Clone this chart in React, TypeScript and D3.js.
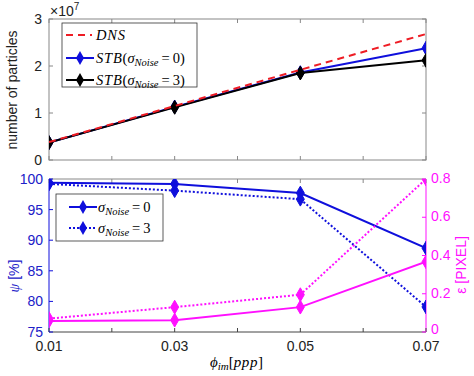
import React from "react";
import * as d3 from "d3";

const xVals = [0.01, 0.03, 0.05, 0.07];
const dns = [0.38, 1.15, 1.92, 2.68];
const stb0 = [0.37, 1.13, 1.86, 2.38];
const stb3 = [0.37, 1.12, 1.85, 2.12];
const psi0 = [99.4, 99.2, 97.7, 88.7];
const psi3 = [99.2, 98.1, 96.7, 79.1];
const eps0 = [0.058, 0.062, 0.13, 0.367];
const eps3 = [0.07, 0.13, 0.195, 0.8];
const xTicks = [0.01, 0.02, 0.03, 0.04, 0.05, 0.06, 0.07];
const xTickLabels = [0.01, 0.03, 0.05, 0.07];
const topYTicks = [0, 1, 2, 3];
const psiTicks = [75, 80, 85, 90, 95, 100];
const epsTicks = [0, 0.2, 0.4, 0.6, 0.8];

const BLUE = "#0f0fdc";
const BLUE_TXT = "#2020c8";
const MAG = "#ff10ff";
const RED = "#ee1c24";
const GRAY = "#888";
const FONT = "'Liberation Sans', Arial, sans-serif";
const SERIF = "'Liberation Serif', 'Times New Roman', serif";

const L = 49, R = 426;
const x = d3.scaleLinear().domain([0.01, 0.07]).range([L, R]);
const yTop = d3.scaleLinear().domain([0, 3]).range([160, 19]);
const yPsi = d3.scaleLinear().domain([75, 100]).range([332, 179]);
const yEps = d3.scaleLinear().domain([0, 0.8]).range([332, 179]);

const diamond = d3.symbol().type(d3.symbolDiamond).size(55)()!;

function Series({ vals, y, color, dash, width = 2 }: any) {
  const line = d3.line<number>().x((_, i) => x(xVals[i])).y((v) => y(v));
  return (
    <g>
      <path d={line(vals)!} fill="none" stroke={color} strokeWidth={width} strokeDasharray={dash} />
      {vals.map((v: number, i: number) => (
        <path key={i} d={diamond} transform={`translate(${x(xVals[i])},${y(v)})`} fill={color} stroke={color} />
      ))}
    </g>
  );
}

function Series2({ vals, y, color, dash }: any) {
  const line = d3.line<number>().x((_, i) => x(xVals[i])).y((v) => y(v));
  return <path d={line(vals)!} fill="none" stroke={color} strokeWidth={2} strokeDasharray={dash} />;
}

function Noise({ n }: { n: string }) {
  return (
    <>
      <tspan fontStyle="italic">σ</tspan>
      <tspan fontStyle="italic" fontSize="10.5" dy="3">Noise</tspan>
      <tspan dy="-3" dx="3">=</tspan>
      <tspan dx="3">{n}</tspan>
    </>
  );
}

export default function App() {
  return (
    <svg width={474} height={376} style={{ display: "block", position: "absolute", left: 0, top: 0 }}>
      <rect width={474} height={376} fill="#fff" />
      <defs>
        <clipPath id="cTop"><rect x={L} y={19} width={R - L} height={141} /></clipPath>
        <clipPath id="cBot"><rect x={L} y={179} width={R - L} height={153} /></clipPath>
      </defs>

      {/* TOP AXES */}
      <rect x={L} y={19} width={R - L} height={141} fill="none" stroke={GRAY} strokeWidth={1} />
      {xTicks.map((t) => (
        <g key={t}>
          <line x1={x(t)} x2={x(t)} y1={160} y2={156} stroke={GRAY} />
          <line x1={x(t)} x2={x(t)} y1={19} y2={23} stroke={GRAY} />
        </g>
      ))}
      {topYTicks.map((t) => (
        <g key={t}>
          <line x1={L} x2={L + 4} y1={yTop(t)} y2={yTop(t)} stroke={GRAY} />
          <line x1={R} x2={R - 4} y1={yTop(t)} y2={yTop(t)} stroke={GRAY} />
          <text x={42} y={yTop(t) + 5} fontSize={14} fontFamily={FONT} textAnchor="end" fill="#222">{t}</text>
        </g>
      ))}
      <text x={50} y={16} fontSize={14} fontFamily={FONT} fill="#222">×10<tspan fontSize={10} dy={-6}>7</tspan></text>
      <text transform="translate(17,90) rotate(-90)" fontSize={14} fontFamily={FONT} textAnchor="middle" fill="#222">number of particles</text>
      <g clipPath="url(#cTop)">
        <Series vals={stb0} y={yTop} color={BLUE} />
        <Series vals={stb3} y={yTop} color="#000" />
        <Series2 vals={dns} y={yTop} color={RED} dash="7,5" />
      </g>
      {/* top legend */}
      <rect x={62} y={23} width={135} height={64} fill="#fff" stroke="#333" strokeWidth={0.8} />
      <line x1={66} x2={92} y1={35} y2={35} stroke={RED} strokeWidth={2} strokeDasharray="7,5" />
      <text x={96} y={40} fontSize={14.5} fontFamily={SERIF} fontStyle="italic" fill="#000" letterSpacing={0.8}>DNS</text>
      <line x1={66} x2={94} y1={58} y2={58} stroke={BLUE} strokeWidth={2} />
      <path d={diamond} transform="translate(80,58)" fill={BLUE} />
      <text x={96} y={63} fontSize={14.5} fontFamily={SERIF} fill="#000"><tspan fontStyle="italic" letterSpacing={0.8}>STB</tspan>(<Noise n="0" />)</text>
      <line x1={66} x2={94} y1={80} y2={80} stroke="#000" strokeWidth={2} />
      <path d={diamond} transform="translate(80,80)" fill="#000" />
      <text x={96} y={85} fontSize={14.5} fontFamily={SERIF} fill="#000"><tspan fontStyle="italic" letterSpacing={0.8}>STB</tspan>(<Noise n="3" />)</text>

      {/* BOTTOM AXES */}
      <line x1={L} x2={R} y1={179} y2={179} stroke={GRAY} />
      <line x1={L} x2={R} y1={332} y2={332} stroke="#444" />
      <line x1={L} x2={L} y1={179} y2={332} stroke={BLUE} />
      <line x1={R} x2={R} y1={179} y2={332} stroke={MAG} />
      {xTicks.map((t) => (
        <g key={t}>
          <line x1={x(t)} x2={x(t)} y1={332} y2={328} stroke="#444" />
          <line x1={x(t)} x2={x(t)} y1={179} y2={183} stroke={GRAY} />
        </g>
      ))}
      {xTickLabels.map((t) => (
        <text key={t} x={x(t)} y={351} fontSize={14} fontFamily={FONT} textAnchor="middle" fill="#222">{t.toFixed(2)}</text>
      ))}
      {psiTicks.map((t) => (
        <g key={t}>
          <line x1={L} x2={L + 4} y1={yPsi(t)} y2={yPsi(t)} stroke={BLUE} />
          <text x={43} y={yPsi(t) + 5} fontSize={14} fontFamily={FONT} textAnchor="end" fill={BLUE_TXT}>{t}</text>
        </g>
      ))}
      {epsTicks.map((t) => (
        <g key={t}>
          <line x1={R} x2={R - 4} y1={yEps(t)} y2={yEps(t)} stroke={MAG} />
          <text x={431} y={yEps(t) + (t === 0 ? 2 : 4)} fontSize={14} fontFamily={FONT} fill={MAG}>{t === 0 ? "0" : t.toFixed(1)}</text>
        </g>
      ))}
      <text transform="translate(19,276) rotate(-90)" fontSize={14} fontFamily={FONT} textAnchor="middle" fill={BLUE_TXT}>
        <tspan fontFamily={SERIF} fontStyle="italic">ψ</tspan> [%]
      </text>
      <text transform="translate(466,265) rotate(-90)" fontSize={14} fontFamily={FONT} textAnchor="middle" fill={MAG}>ε [PIXEL]</text>
      <text x={210} y={367} fontSize={15} fontFamily={SERIF} fill="#000">
        <tspan fontStyle="italic">ϕ</tspan><tspan fontStyle="italic" fontSize={11} dy={3}>im</tspan><tspan dy={-3}>[</tspan><tspan fontStyle="italic" letterSpacing={0.6}>ppp</tspan>]
      </text>
      <g clipPath="url(#cBot)">
        <Series vals={psi0} y={yPsi} color={BLUE} />
        <Series vals={psi3} y={yPsi} color={BLUE} dash="2,2" />
        <Series vals={eps0} y={yEps} color={MAG} />
        <Series vals={eps3} y={yEps} color={MAG} dash="2,2" />
      </g>
      {/* bottom legend */}
      <rect x={56} y={194} width={107} height={47} fill="#fff" stroke="#333" strokeWidth={0.8} />
      <line x1={69} x2={97} y1={207} y2={207} stroke={BLUE} strokeWidth={2} />
      <path d={diamond} transform="translate(83,207)" fill={BLUE} />
      <text x={98} y={212} fontSize={14.5} fontFamily={SERIF} fill="#000"><Noise n="0" /></text>
      <line x1={69} x2={97} y1={228} y2={228} stroke={BLUE} strokeWidth={2} strokeDasharray="2,2" />
      <path d={diamond} transform="translate(83,228)" fill={BLUE} />
      <text x={98} y={233} fontSize={14.5} fontFamily={SERIF} fill="#000"><Noise n="3" /></text>
    </svg>
  );
}
